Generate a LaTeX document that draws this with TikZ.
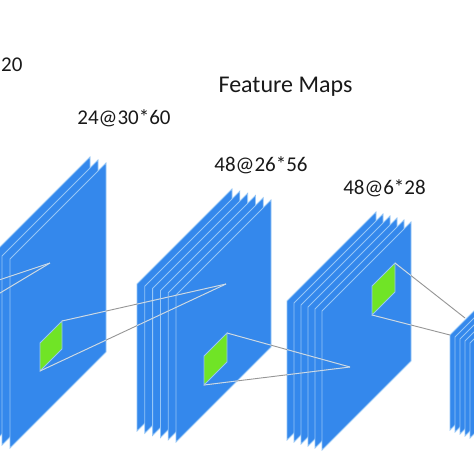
\documentclass[tikz,border=0pt]{standalone}
\usepackage{fontspec}
\setmainfont{Carlito}
\definecolor{sheetblue}{RGB}{52,136,236}
\definecolor{sheetedge}{RGB}{150,198,246}
\definecolor{patchgreen}{RGB}{112,228,38}
\definecolor{linkgrey}{RGB}{150,150,150}
\definecolor{linklight}{RGB}{195,220,245}
\definecolor{txt}{RGB}{25,25,25}
\tikzset{
  sheet/.style={fill=sheetblue,draw=sheetedge,line width=0.8pt,line join=miter},
  patch/.style={fill=patchgreen,draw=sheetedge,line width=0.8pt},
  link/.style={draw=linkgrey,line width=0.9pt},
  linkl/.style={draw=linklight,line width=0.9pt},
  lbl/.style={text=txt,inner sep=0pt,font=\fontsize{21}{24}\selectfont},
  ttl/.style={text=txt,inner sep=0pt,font=\fontsize{24}{28}\selectfont}
}
% #1 back-left x, #2 back bottom-left y, #3 width, #4 height, #5 last index, #6 dx, #7 dy
\newcommand\fmstack[7]{%
  \foreach \i in {0,...,#5}{%
    \pgfmathsetmacro\xx{#1+\i*#6}%
    \pgfmathsetmacro\yy{#2+\i*#7}%
    \path[sheet] (\xx,\yy) -- (\xx,\yy-#4) -- (\xx+#3,\yy-#4-#3) -- (\xx+#3,\yy-#3) -- cycle;
  }%
}
\newcommand\alllinks[1]{%
  \draw[#1] (in1) -- (p1);
  \draw[#1] (in2) -- (p1);
  \draw[#1] (g1tr) -- (p2);
  \draw[#1] (g1bl) -- (p2);
  \draw[#1] (g2tr) -- (p3);
  \draw[#1] (g2bl) -- (p3);
  \draw[#1] (g3tr) -- (q1);
  \draw[#1] (g3bl) -- (q2);
}
\begin{document}
\begin{tikzpicture}[x=1pt,y=-1pt]
\useasboundingbox (0,0) rectangle (474,474);
\clip (0,0) rectangle (474,474);
\fill[white] (0,0) rectangle (474,474);

% stacks of feature maps
\fmstack{-6}{442}{96}{189}{2}{8}{3}
\fmstack{137}{431}{95}{147}{5}{7.8}{2.2}
\fmstack{287}{440}{89}{139}{5}{7}{2}
\fmstack{450}{430}{70}{95}{5}{5}{2}

% green receptive fields
\path[patch] (40,343) -- (62,321) -- (62,349) -- (40,371) -- cycle;
\path[patch] (204,356) -- (227,333) -- (227,362) -- (204,385) -- cycle;
\path[patch] (372,286) -- (395,263) -- (395,292) -- (372,315) -- cycle;

% link end points
\coordinate (in1) at (-10,283);
\coordinate (in2) at (-10,299);
\coordinate (p1) at (50,263);
\coordinate (g1tr) at (62,321);
\coordinate (g1bl) at (40,371);
\coordinate (p2) at (226,284);
\coordinate (g2tr) at (227,333);
\coordinate (g2bl) at (204,385);
\coordinate (p3) at (350,367);
\coordinate (g3tr) at (395,263);
\coordinate (g3bl) at (372,315);
\coordinate (q1) at (465,318);
\coordinate (q2) at (450,335);

% links: grey over white, light over the sheets
\alllinks{link}
\begin{scope}
  \clip (-6,442) -- (-6,253) -- (90,157) -- (106,163) -- (106,352) -- (10,448) -- cycle;
  \alllinks{linkl}
\end{scope}
\begin{scope}
  \clip (137,431) -- (137,284) -- (232,189) -- (271,200) -- (271,347) -- (176,442) -- cycle;
  \alllinks{linkl}
\end{scope}
\begin{scope}
  \clip (287,440) -- (287,301) -- (376,212) -- (411,222) -- (411,361) -- (322,450) -- cycle;
  \alllinks{linkl}
\end{scope}

% labels
\node[lbl,anchor=west] (t0) at (1,65) {20};
\node[ttl] (title) at (285.5,87) {Feature Maps};
\node[lbl] (t1) at (124,118) {24@30*60};
\node[lbl] (t2) at (261,165) {48@26*56};
\node[lbl] (t3) at (384.5,188) {48@6*28};
\end{tikzpicture}
\end{document}
